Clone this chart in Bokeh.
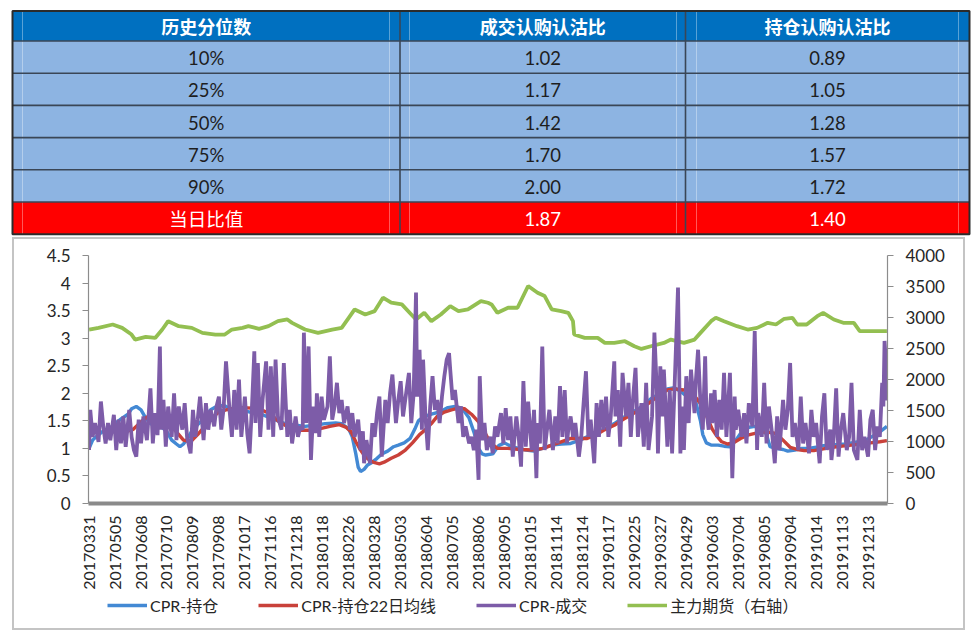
import math
from bokeh.plotting import figure
from bokeh.models import (Range1d, LinearAxis, FixedTicker, NumeralTickFormatter,
                          Legend, LegendItem)
from bokeh.embed import file_html
from bokeh.resources import INLINE
from bokeh.core.properties import value

# ---------------- data ----------------
table_headers = ["历史分位数", "成交认购认沽比", "持仓认购认沽比"]
row_labels = ["10%", "25%", "50%", "75%", "90%", "当日比值"]
vol_ratio = ["1.02", "1.17", "1.42", "1.70", "2.00", "1.87"]
oi_ratio = ["0.89", "1.05", "1.28", "1.57", "1.72", "1.40"]

date_labels = ["20170331", "20170505", "20170608", "20170710", "20170809", "20170908",
               "20171017", "20171116", "20171218", "20180118", "20180226", "20180328",
               "20180503", "20180604", "20180705", "20180806", "20180905", "20181015",
               "20181114", "20181214", "20190117", "20190225", "20190327", "20190429",
               "20190603", "20190704", "20190805", "20190904", "20191014", "20191113",
               "20191213"]
label_day = [0, 22, 44, 66, 88, 110, 132, 154, 176, 198, 220, 242, 264, 286, 308, 330,
             352, 374, 396, 418, 440, 462, 484, 506, 528, 550, 572, 594, 616, 638, 660]
n_days = 677

fut_day = [0, 8, 20, 28, 36, 39, 48, 56, 62, 67, 76, 87, 96, 107, 115, 121, 130, 135, 144, 152,
           160, 168, 172, 183, 194, 206, 214, 220, 225, 234, 242, 249, 256, 265, 273, 277, 284, 290, 298, 306,
           313, 321, 332, 338, 341, 346, 355, 363, 372, 380, 386, 392, 400, 406, 410, 411, 420, 431, 437, 445,
           454, 462, 468, 476, 487, 493, 504, 513, 518, 527, 531, 538, 549, 558, 566, 575, 582, 589, 596, 600,
           608, 617, 622, 631, 639, 648, 653, 665, 676]
fut_val = [2806, 2833, 2887, 2833, 2725, 2644, 2688, 2671, 2806, 2941, 2860, 2833, 2752, 2725, 2725, 2806, 2833, 2860, 2817, 2860,
           2941, 2968, 2914, 2806, 2752, 2806, 2833, 2995, 3130, 3049, 3103, 3319, 3238, 3211, 3049, 2968, 3076, 2941, 3049, 3184,
           3103, 3130, 3265, 3238, 3211, 3076, 3157, 3157, 3508, 3400, 3346, 3130, 3103, 3076, 2941, 2725, 2671, 2671, 2590, 2590,
           2617, 2536, 2493, 2536, 2590, 2644, 2590, 2644, 2752, 2941, 2995, 2941, 2860, 2806, 2833, 2914, 2887, 2979, 2995, 2887,
           2887, 3022, 3076, 2968, 2914, 2914, 2779, 2779, 2779]

oi_day = [0, 3, 6, 11, 17, 22, 28, 33, 36, 40, 44, 48, 52, 56, 62, 66, 70, 74, 77, 80,
          84, 88, 93, 98, 103, 108, 114, 120, 126, 132, 138, 146, 154, 160, 166, 175, 183, 191, 200, 209,
          214, 220, 223, 226, 228, 230, 233, 236, 240, 244, 248, 253, 258, 262, 267, 272, 276, 279, 283, 290,
          297, 304, 310, 316, 322, 326, 330, 333, 336, 342, 347, 352, 358, 364, 370, 377, 384, 392, 400, 408,
          416, 422, 430, 437, 445, 452, 460, 468, 476, 484, 490, 496, 502, 506, 510, 514, 518, 520, 523, 527,
          533, 538, 543, 548, 553, 558, 564, 570, 574, 577, 582, 588, 592, 598, 604, 610, 616, 622, 628, 634,
          640, 646, 652, 658, 664, 670, 676]
oi_val = [1.00, 1.15, 1.21, 1.30, 1.35, 1.45, 1.55, 1.62, 1.72, 1.76, 1.70, 1.55, 1.45, 1.40, 1.38, 1.30, 1.15, 1.08, 1.03, 1.08,
          1.20, 1.35, 1.45, 1.55, 1.70, 1.76, 1.78, 1.72, 1.70, 1.68, 1.65, 1.62, 1.55, 1.50, 1.45, 1.42, 1.40, 1.42, 1.45, 1.46,
          1.45, 1.35, 1.21, 0.90, 0.66, 0.58, 0.62, 0.70, 0.75, 0.82, 0.90, 0.95, 1.03, 1.06, 1.10, 1.18, 1.35, 1.50, 1.57, 1.62,
          1.66, 1.74, 1.76, 1.73, 1.55, 1.30, 1.00, 0.90, 0.88, 0.90, 1.05, 1.10, 1.03, 1.00, 0.97, 0.95, 1.00, 1.06, 1.08, 1.09,
          1.15, 1.21, 1.30, 1.35, 1.45, 1.55, 1.65, 1.75, 1.90, 2.00, 2.08, 2.10, 2.02, 1.95, 1.93, 1.85, 1.50, 1.25, 1.10, 1.06,
          1.06, 1.04, 1.03, 1.15, 1.30, 1.38, 1.40, 1.38, 1.25, 1.03, 1.00, 0.98, 0.95, 0.97, 1.00, 1.00, 1.02, 1.05, 1.06, 1.07,
          1.08, 1.10, 1.12, 1.15, 1.22, 1.30, 1.40]

ma_day = [21, 30, 37, 44, 50, 56, 62, 68, 74, 80, 86, 92, 98, 104, 110, 116, 122, 130, 138, 146,
          154, 160, 166, 172, 180, 188, 196, 204, 212, 218, 222, 226, 230, 234, 238, 242, 246, 250, 256, 262,
          268, 274, 280, 285, 290, 295, 301, 307, 313, 318, 324, 330, 335, 340, 346, 355, 365, 375, 385, 392,
          400, 408, 416, 422, 430, 437, 445, 452, 460, 468, 476, 484, 490, 496, 504, 510, 515, 520, 524, 528,
          532, 536, 541, 546, 552, 558, 566, 574, 582, 588, 594, 600, 606, 614, 622, 630, 638, 646, 654, 662,
          670, 676]
ma_val = [1.28, 1.30, 1.34, 1.48, 1.58, 1.60, 1.55, 1.45, 1.30, 1.15, 1.12, 1.25, 1.40, 1.55, 1.66, 1.70, 1.72, 1.74, 1.73, 1.70,
          1.62, 1.50, 1.42, 1.36, 1.33, 1.33, 1.36, 1.40, 1.43, 1.38, 1.30, 1.12, 0.97, 0.85, 0.78, 0.74, 0.72, 0.75, 0.82, 0.88,
          0.97, 1.10, 1.25, 1.34, 1.45, 1.58, 1.66, 1.70, 1.73, 1.72, 1.62, 1.48, 1.30, 1.10, 1.00, 1.00, 0.98, 0.97, 1.00, 1.06,
          1.12, 1.18, 1.18, 1.18, 1.25, 1.34, 1.42, 1.52, 1.62, 1.72, 1.85, 1.98, 2.06, 2.08, 2.06, 2.02, 1.90, 1.75, 1.55, 1.35,
          1.22, 1.12, 1.08, 1.10, 1.18, 1.24, 1.28, 1.30, 1.27, 1.15, 1.02, 0.98, 0.96, 0.96, 0.99, 1.02, 1.04, 1.06, 1.08, 1.10,
          1.12, 1.14]

vol_day = [0, 1, 3, 5, 8, 10, 12, 14, 16, 18, 21, 23, 25, 27, 29, 31, 34, 36, 38, 40,
           42, 44, 46, 49, 52, 54, 56, 58, 60, 61, 63, 65, 67, 70, 72, 74, 76, 79, 81, 83,
           86, 88, 90, 92, 94, 97, 99, 101, 103, 106, 108, 110, 112, 114, 116, 119, 121, 123, 125, 127,
           129, 132, 134, 136, 138, 140, 141, 143, 145, 147, 150, 152, 154, 156, 158, 160, 163, 165,
           168, 170, 172, 175, 177, 179, 181, 182, 184, 186, 188, 190, 192, 193, 195, 197, 199, 202, 204, 206,
           208, 210, 212, 214, 216, 219, 221, 223, 225, 228, 230, 232, 233, 235, 238, 240, 242, 244, 246, 248,
           251, 253, 255, 257, 260, 262, 264, 266, 269, 271, 273, 275, 277, 278, 280, 282, 283, 285, 287, 289,
           291, 293, 295, 297, 299, 301, 303, 305, 306, 308, 310, 313, 315, 317, 319, 322, 324, 326, 328, 330,
           331, 333,
           335, 337, 340, 342, 344, 346, 349, 351, 353, 355, 357, 359, 362, 364, 366, 368, 370, 372, 375, 377,
           379, 380, 382, 384, 386, 388, 390, 393, 395, 397, 399, 401, 403, 405, 406, 408, 410, 412, 415, 417,
           419, 421, 423, 425, 428, 430, 432, 434, 436, 438, 440, 442, 445, 446, 448, 450, 452, 455, 457, 459,
           461, 463, 465, 468, 470, 472, 474, 477, 479, 481, 482, 484, 486, 487, 490, 492, 494, 496, 499, 501,
           503,
           504, 506, 508, 510, 513, 514, 516, 518, 520, 522, 523, 525, 527, 528, 530, 532, 534, 536, 538, 540,
           543, 545, 547, 548, 550, 553, 555, 557, 559, 562, 564, 566, 567, 570, 572, 574, 576, 579, 581, 583,
           585, 588, 590, 592, 594, 596, 598, 601, 603, 605, 607, 610, 612, 614, 616, 619, 621, 623, 625, 628,
           629, 631, 633, 635, 637, 639, 642, 644, 646, 648, 651, 653, 655, 657, 660, 662, 664, 666, 668, 670,
           672, 673, 674, 675, 676]
vol_val = [0.97, 1.70, 1.21, 1.46, 1.12, 1.85, 1.40, 1.09, 1.46, 1.15, 1.61, 0.97, 1.52, 1.09, 1.58, 1.03, 1.70, 1.21, 0.97, 0.85,
           1.52, 1.09, 1.58, 1.15, 2.09, 1.09, 1.64, 1.24, 2.85, 1.34, 1.88, 1.03, 1.76, 1.21, 2.00, 1.15, 1.76, 1.34, 1.82, 1.21,
           0.91, 1.70, 1.21, 1.52, 1.94, 1.15, 1.82, 1.34, 1.70, 1.40, 1.76, 1.94, 1.34, 1.73, 2.58, 1.70, 1.21, 2.06, 1.34, 2.25,
           1.21, 1.94, 1.28, 0.91, 1.76, 2.76, 1.46, 2.55, 1.21, 1.88, 2.58, 1.34, 2.49, 1.21, 2.61, 1.58, 1.34, 2.55,
           1.21, 1.70, 1.09, 1.58, 1.21, 1.40, 1.34, 3.10, 1.46, 2.85, 0.79, 1.76, 1.28, 2.00, 1.21, 1.94, 1.52, 1.76, 2.67, 1.52,
           1.76, 2.19, 1.64, 1.88, 1.46, 1.76, 1.34, 1.64, 1.21, 1.52, 0.97, 1.31, 0.73, 1.15, 0.73, 1.46, 1.21, 1.64, 1.94, 0.85,
           1.88, 1.46, 2.00, 2.34, 1.46, 1.88, 2.22, 1.58, 2.06, 2.37, 1.46, 2.00, 3.83, 1.94, 2.79, 1.34, 2.61, 1.58, 0.97, 1.76,
           2.31, 1.70, 1.88, 1.46, 1.94, 2.31, 2.61, 2.73, 2.43, 1.88, 2.06, 1.46, 1.76, 1.21, 1.40, 1.09, 1.21, 0.97, 1.34, 0.43,
           2.31, 1.15,
           1.46, 0.97, 1.21, 0.91, 1.40, 1.21, 1.64, 1.09, 1.73, 1.15, 1.58, 0.85, 1.58, 1.21, 0.67, 2.22, 1.03, 1.85, 0.97, 1.70,
           0.46, 1.46, 1.09, 2.85, 0.97, 1.34, 1.70, 0.97, 1.58, 1.09, 2.13, 1.21, 2.06, 1.09, 1.34, 1.58, 1.21, 1.46, 0.85, 1.21,
           1.82, 2.40, 1.21, 1.52, 0.73, 1.82, 1.21, 1.88, 1.34, 1.94, 1.21, 1.58, 2.58, 1.58, 2.06, 1.03, 2.37, 1.58, 2.19, 1.21,
           1.94, 2.46, 1.21, 1.82, 1.03, 2.19, 0.97, 1.58, 3.10, 2.06, 0.91, 2.49, 1.58, 2.43, 1.03, 2.06, 0.91, 2.06, 3.92, 0.91,
           1.76,
           0.97, 2.31, 1.46, 2.43, 1.64, 2.19, 2.79, 1.82, 1.34, 2.67, 1.70, 1.34, 2.00, 1.46, 2.06, 1.21, 1.88, 1.34, 2.37, 1.21,
           2.37, 0.46, 1.94, 1.34, 1.70, 1.21, 1.64, 1.09, 1.82, 1.40, 3.13, 0.97, 1.64, 1.21, 2.19, 1.09, 1.76, 1.21, 0.73, 1.58,
           0.97, 1.88, 1.34, 1.70, 2.55, 1.21, 1.46, 0.97, 1.94, 1.09, 1.46, 0.91, 1.70, 1.21, 1.46, 0.73, 1.58, 2.00, 0.97, 1.34,
           0.79, 1.21, 2.09, 0.85, 1.34, 1.64, 0.97, 1.21, 2.19, 0.97, 0.79, 1.70, 0.97, 1.21, 0.85, 1.52, 1.70, 0.97, 1.40, 1.21,
           2.19, 1.76, 2.95, 2.60, 1.87]

left_ticks = [0, 0.5, 1, 1.5, 2, 2.5, 3, 3.5, 4, 4.5]
right_ticks = [0, 500, 1000, 1500, 2000, 2500, 3000, 3500, 4000]

series_names = ["CPR-持仓", "CPR-持仓22日均线", "CPR-成交", "主力期货（右轴）"]

# ---------------- styling ----------------
FONT = "Lato, Noto Sans CJK SC, sans-serif"
C_BLUE = "#4389D4"
C_RED = "#C9413A"
C_PURPLE = "#7D5CA8"
C_GREEN = "#93BF51"
BORDER = "2px solid #c4c4c4"

# ---------------- table figure ----------------
TW, TH = 979, 237
t = figure(width=TW, height=TH, x_range=Range1d(0, TW), y_range=Range1d(TH, 0),
           output_backend="svg", toolbar_location=None, min_border=0,
           x_axis_location=None, y_axis_location=None, outline_line_color=None)
t.grid.visible = False

col_edges = [12, 399.5, 685, 969]
hdr_top, hdr_bot, row_h = 10.5, 40.5, 32.2
n_rows = len(row_labels)
row_tops = [hdr_bot + i * row_h for i in range(n_rows)]
row_bots = [rt + row_h for rt in row_tops]
row_fill = ["#8DB4E2"] * (n_rows - 1) + ["#FF0000"]

t.quad(left=[col_edges[0]], right=[col_edges[-1]], top=[hdr_top], bottom=[hdr_bot],
       fill_color="#0070C0", line_color=None)
t.quad(left=[col_edges[0]] * n_rows, right=[col_edges[-1]] * n_rows, top=row_tops,
       bottom=row_bots, fill_color=row_fill, line_color=None)
for xx in [22, 389, 409, 676, 696, 958]:
    t.segment(x0=[xx], y0=[hdr_top], x1=[xx], y1=[row_bots[-1]], line_color="#ffffff",
              line_alpha=0.35, line_width=1)
ys = [hdr_bot] + row_bots[:-1]
t.segment(x0=[col_edges[0]] * len(ys), y0=ys, x1=[col_edges[-1]] * len(ys), y1=ys,
          line_color="#3a4656", line_width=1.6)
t.segment(x0=col_edges[1:3], y0=[hdr_top] * 2, x1=col_edges[1:3], y1=[row_bots[-1]] * 2,
          line_color="#3a4656", line_width=1.6)
t.quad(left=[col_edges[0]], right=[col_edges[-1]], top=[hdr_top], bottom=[row_bots[-1]],
       fill_color=None, line_color="#2b2b2b", line_width=2)

col_cx = [(col_edges[i] + col_edges[i + 1]) / 2 for i in range(3)]
t.text(x=col_cx, y=[(hdr_top + hdr_bot) / 2 + 1] * 3, text=table_headers,
       text_color="white", text_font=value(FONT), text_font_size="18px",
       text_font_style="bold", text_align="center", text_baseline="middle")
body_x, body_y, body_txt, body_col = [], [], [], []
for i in range(n_rows):
    cy = (row_tops[i] + row_bots[i]) / 2 + 1
    colr = "white" if i == n_rows - 1 else "#1e1e1e"
    for j, txt in enumerate([row_labels[i], vol_ratio[i], oi_ratio[i]]):
        body_x.append(col_cx[j]); body_y.append(cy); body_txt.append(txt); body_col.append(colr)
t.text(x=body_x, y=body_y, text=body_txt, text_color=body_col, text_font=value(FONT),
       text_font_size="18.5px", text_align="center", text_baseline="middle")

# ---------------- chart figure ----------------
p = figure(width=953, height=359, x_range=Range1d(-0.5, n_days - 0.5), y_range=Range1d(0, 4.5),
           output_backend="svg", toolbar_location=None,
           min_border_left=74, min_border_right=80, min_border_top=16, min_border_bottom=95,
           outline_line_color=None,
           styles={"border": BORDER, "border-bottom": "none"}, margin=(0, 0, 0, 12))
p.grid.visible = False
p.extra_y_ranges = {"fut": Range1d(0, 4000)}

r_green = p.line(fut_day, fut_val, line_color=C_GREEN, line_width=3.8, y_range_name="fut")
r_blue = p.line(oi_day, oi_val, line_color=C_BLUE, line_width=3.4)
r_red = p.line(ma_day, ma_val, line_color=C_RED, line_width=3.4)
r_purple = p.line(vol_day, vol_val, line_color=C_PURPLE, line_width=3.8)

ya = p.yaxis[0]
ya.ticker = FixedTicker(ticks=left_ticks)
ya.formatter = NumeralTickFormatter(format="0.[0]")
ax_r = LinearAxis(y_range_name="fut", ticker=FixedTicker(ticks=right_ticks))
p.add_layout(ax_r, "right")
for ax in (ya, ax_r):
    ax.axis_line_color = "#8c8c8c"
    ax.axis_line_width = 1.2
    ax.major_tick_line_color = "#8c8c8c"
    ax.major_tick_out = 6
    ax.major_tick_in = 0
    ax.minor_tick_line_color = None
    ax.major_label_text_font = FONT
    ax.major_label_text_font_size = "17px"
    ax.major_label_text_color = "#262626"
    ax.major_label_standoff = 12

xa = p.xaxis[0]
xa.ticker = FixedTicker(ticks=label_day)
xa.major_label_overrides = {d: s for d, s in zip(label_day, date_labels)}
xa.major_label_orientation = math.pi / 2
xa.axis_line_color = "#8a8a8a"
xa.axis_line_width = 4
xa.major_tick_line_color = None
xa.minor_tick_line_color = None
xa.major_label_text_font = FONT
xa.major_label_text_font_size = "16px"
xa.major_label_text_color = "#262626"
xa.major_label_standoff = 6

# ---------------- legend strip (bottom of the bordered box) ----------------
# the series are re-plotted here only as legend proxies, entirely outside the visible range
lg = figure(width=953, height=34, x_range=Range1d(-20000, -19999), y_range=Range1d(-20000, -19999),
            output_backend="svg", toolbar_location=None, min_border=0,
            x_axis_location=None, y_axis_location=None, outline_line_color=None,
            styles={"border": BORDER, "border-top": "none"}, margin=(0, 0, 0, 12))
lg.grid.visible = False
proxies = [lg.line(oi_day, oi_val, line_color=C_BLUE, line_width=3.4),
           lg.line(ma_day, ma_val, line_color=C_RED, line_width=3.4),
           lg.line(vol_day, vol_val, line_color=C_PURPLE, line_width=3.4),
           lg.line(fut_day, fut_val, line_color=C_GREEN, line_width=3.4)]
legend = Legend(items=[LegendItem(label=n, renderers=[r]) for n, r in zip(series_names, proxies)],
                orientation="horizontal", location=(93, 13), spacing=40,
                label_standoff=3, padding=0, margin=0, glyph_width=40, glyph_height=20,
                label_height=20, border_line_alpha=0, background_fill_alpha=0,
                label_text_font=FONT, label_text_font_size="16px",
                label_text_color="#262626")
lg.add_layout(legend)

open("out.html", "w").write(file_html([t, p, lg], INLINE))
